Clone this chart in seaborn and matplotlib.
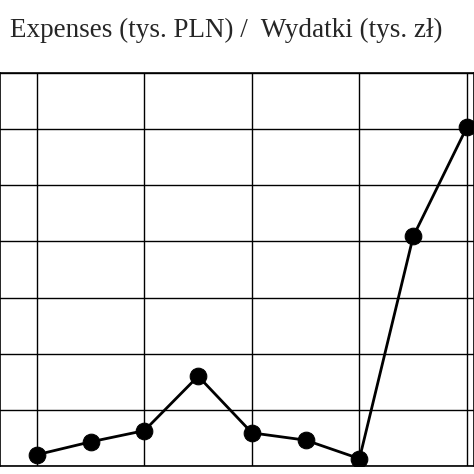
import matplotlib
matplotlib.use("Agg")
import matplotlib.pyplot as plt
import seaborn as sns
import numpy as np

# Data (visible part only)
periods = [0, 1, 2, 3, 4, 5, 6, 7, 8]
expenses = [0.20, 0.43, 0.63, 1.60, 0.59, 0.46, 0.13, 4.09, 6.04]
title = "Expenses (tys. PLN) /  Wydatki (tys. zł)"

sns.set_style("white")
plt.rcParams['font.family'] = ['Liberation Serif', 'DejaVu Serif']

fig = plt.figure(figsize=(4.74, 4.74), dpi=100)
ax = fig.add_axes([0, 0.0169, 1, 0.829])

sns.lineplot(x=periods, y=expenses, ax=ax, color="black", linewidth=2,
             marker="o", markersize=12, markerfacecolor="black",
             markeredgecolor="black", clip_on=True)

ax.set_xlim(-0.685, 8.13)
ax.set_ylim(0, 7)
ax.set_xticks(np.arange(0, 9, 2))
ax.set_yticks(np.arange(0, 8, 1))
ax.tick_params(labelleft=False, labelbottom=False, length=0)
ax.grid(True, color="black", linewidth=1)
for s in ax.spines.values():
    s.set_color("black")
    s.set_linewidth(1.2)
ax.set_xlabel("")
ax.set_ylabel("")

fig.text(0.021, 0.935, title, fontsize=19.5, va="center", ha="left")

fig.savefig("out.png", dpi=100)
